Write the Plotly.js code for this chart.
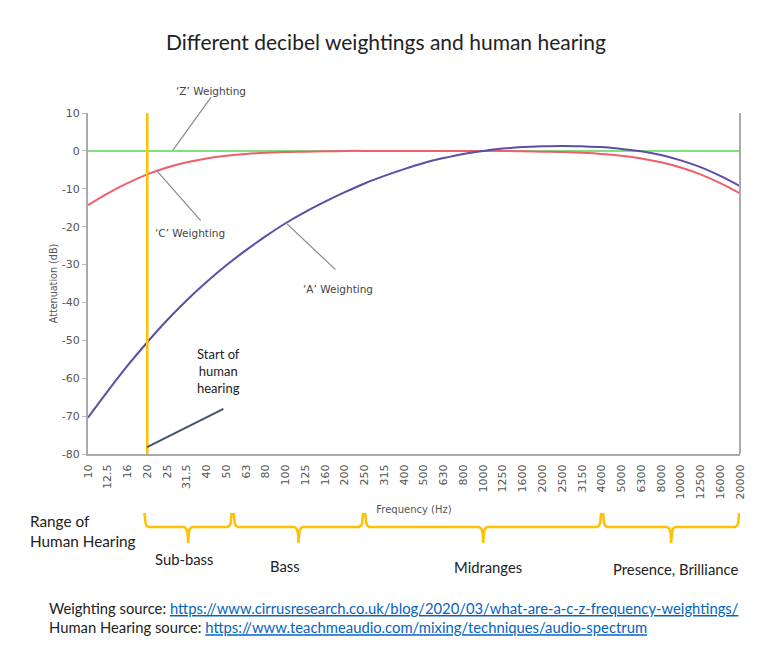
<!DOCTYPE html>
<html><head><meta charset="utf-8">
<script src="https://cdn.plot.ly/plotly-3.0.1.min.js"></script>
<style>html,body{margin:0;padding:0;background:#fff}#chart{width:768px;height:649px}</style>
</head><body><div id="chart"></div>
<script>
// ---- data ----
const freqLabels = ['10','12.5','16','20','25','31.5','40','50','63','80','100','125','160','200','250','315','400','500','630','800','1000','1250','1600','2000','2500','3150','4000','5000','6300','8000','10000','12500','16000','20000'];
const aWeighting = [-70.4,-63.4,-56.7,-50.5,-44.7,-39.4,-34.6,-30.2,-26.2,-22.5,-19.1,-16.1,-13.4,-10.9,-8.6,-6.6,-4.8,-3.2,-1.9,-0.8,0,0.6,1.0,1.2,1.3,1.2,1.0,0.5,-0.1,-1.1,-2.5,-4.3,-6.6,-9.3];
const cWeighting = [-14.3,-11.2,-8.5,-6.2,-4.4,-3.0,-2.0,-1.3,-0.8,-0.5,-0.3,-0.2,-0.1,0,0,0,0,0,0,0,0,0,-0.1,-0.2,-0.3,-0.5,-0.8,-1.3,-2.0,-3.0,-4.4,-6.2,-8.5,-11.2];
const zWeighting = [0,0,0,0,0,0,0,0,0,0,0,0,0,0,0,0,0,0,0,0,0,0,0,0,0,0,0,0,0,0,0,0,0,0];
const yTicks = [10,0,-10,-20,-30,-40,-50,-60,-70,-80];
const hearingStartHz = 20;
const bandNames = ['Sub-bass','Bass','Midranges','Presence, Brilliance'];
const bandLowHz = [20, 54, 250, 4000];
const bandHighHz = [54, 250, 4000, 20000];

// ---- helpers ----
const idx = freqLabels.map((_, i) => i);
const hzToIdx = f => 10 * Math.log10(f / 10);
const yRange = [-80, 10];
const k = 33 / 652; // index units per pixel
const GOLD = '#FFC000';

const bx = [], by = [];
bandLowHz.forEach((lo, i) => {
  const x0 = hzToIdx(lo) - (i === 0 ? 3 * k : -1 * k);
  const x1 = hzToIdx(bandHighHz[i]) - 1 * k;
  const xm = (x0 + x1) / 2;
  const pts = [
    [x0, -8], [x0 + 0.3 * k, -14], [x0 + 1 * k, -18], [x0 + 2 * k, -20.5], [x0 + 4 * k, -22],
    [xm - 4 * k, -22], [xm - 2 * k, -23.5], [xm - 1 * k, -26], [xm - 0.3 * k, -30], [xm, -38],
    [xm + 0.3 * k, -30], [xm + 1 * k, -26], [xm + 2 * k, -23.5], [xm + 4 * k, -22],
    [x1 - 4 * k, -22], [x1 - 2 * k, -20.5], [x1 - 1 * k, -18], [x1 - 0.3 * k, -14], [x1, -8]
  ];
  pts.forEach(p => { bx.push(p[0]); by.push(p[1]); });
  bx.push(null); by.push(null);
});

const hearIdx = freqLabels.indexOf(String(hearingStartHz));

const traces = [
  {x: idx, y: zWeighting, mode: 'lines', line: {color: '#7FE27F', width: 2}, name: 'Z'},
  {x: idx, y: cWeighting, mode: 'lines', line: {color: '#EE5F6C', width: 2, shape: 'spline', smoothing: 1}, name: 'C'},
  {x: idx, y: aWeighting, mode: 'lines', line: {color: '#5B4EA6', width: 2, shape: 'spline', smoothing: 1}, name: 'A'},
  {x: [hearIdx, hearIdx], y: yRange, mode: 'lines', line: {color: GOLD, width: 2.5}, name: 'hearing'},
  {x: bx, y: by, xaxis: 'x', yaxis: 'y2', mode: 'lines', line: {color: GOLD, width: 2.5}, connectgaps: false, name: 'bands'}
];

const calib = 'Lato, Open Sans, sans-serif';
const vera = 'DejaVu Sans, Verdana, sans-serif';
const small = {family: vera, size: 10.5, color: '#444'};

function pointer(hx, hy, tx, ty, color, w) {
  return {x: hx, y: hy, ax: tx, ay: ty, xref: 'x', yref: 'y', axref: 'x', ayref: 'y',
    text: '', showarrow: true, arrowhead: 0, arrowwidth: w, arrowcolor: color, standoff: 0, startstandoff: 0};
}

const annotations = [
  {x: 6.23, y: 1.063, xref: 'x', yref: 'paper', text: '‘Z’ Weighting', showarrow: false, font: small},
  {x: 5.16, y: -21.7, xref: 'x', yref: 'y', text: '‘C’ Weighting', showarrow: false, font: small},
  {x: 12.65, y: -36.4, xref: 'x', yref: 'y', text: '‘A’ Weighting', showarrow: false, font: small},
  pointer(4.30, 0.2, 6.28, 14.5, '#8a8a8a', 1.2),
  pointer(3.49, -5.3, 5.77, -18.8, '#8a8a8a', 1.2),
  pointer(10.02, -19.0, 12.60, -31.7, '#8a8a8a', 1.2),
  pointer(2.99, -78.2, 6.93, -67.9, '#44546A', 2),
  {x: 6.58, y: -58.1, xref: 'x', yref: 'y', text: 'Start of<br>human<br>hearing', showarrow: false,
    font: {family: calib, size: 13, color: '#222'}, align: 'center'},
  {x: -0.0920, y: 0.1218, xref: 'paper', yref: 'paper', xanchor: 'left', yanchor: 'middle', align: 'left',
    text: 'Range of<br>Human Hearing', showarrow: false, font: {family: calib, size: 15.3, color: '#222'}},
  {x: -0.0629, y: -0.0163, xref: 'paper', yref: 'paper', xanchor: 'left', yanchor: 'top', align: 'left', showarrow: false,
    font: {family: calib, size: 14.8, color: '#222'},
    text: 'Weighting source: <span style="color:#0563C1"><u>https://www.cirrusresearch.co.uk/blog/2020/03/what-are-a-c-z-frequency-weightings/</u></span><br>' +
          'Human Hearing source: <span style="color:#0563C1"><u>https://www.teachmeaudio.com/mixing/techniques/audio-spectrum</u></span>'}
];
const labelShift = [-6, -13, 5, 4];
const labelY = [-54, -61, -62, -64];
bandNames.forEach((n, i) => {
  const x0 = hzToIdx(bandLowHz[i]), x1 = hzToIdx(bandHighHz[i]);
  annotations.push({x: (x0 + x1) / 2, y: labelY[i], xref: 'x', yref: 'y2', xshift: labelShift[i],
    text: n, showarrow: false, font: {family: calib, size: 14.8, color: '#222'}});
});

const layout = {
  width: 768, height: 649,
  margin: {l: 88, r: 28, t: 113, b: 60},
  paper_bgcolor: '#fff', plot_bgcolor: '#fff',
  showlegend: false,
  title: {text: 'Different decibel weightings and human hearing', x: 0.5026, xref: 'container', y: 0.935, yref: 'container',
    xanchor: 'center', yanchor: 'middle', font: {family: calib, size: 21, color: '#222'}},
  xaxis: {range: [0, 33], tickvals: idx, ticktext: freqLabels, tickangle: -90, ticks: '', showgrid: false, zeroline: false,
    showline: true, linecolor: '#aaaaaa', linewidth: 2, anchor: 'y', ticklabelstandoff: 4,
    tickfont: {family: vera, size: 11, color: '#555'},
    title: {text: 'Frequency (Hz)', standoff: 8, font: {family: vera, size: 10, color: '#555'}}},
  yaxis: {domain: [0.28361, 1], range: yRange, tickvals: yTicks, ticktext: yTicks.map(String), ticks: 'outside', ticklen: 4, tickcolor: '#bbb',
    showgrid: false, zeroline: false, showline: true, linecolor: '#aaaaaa', linewidth: 2,
    tickfont: {family: vera, size: 11, color: '#555'},
    title: {text: 'Attenuation (dB)', standoff: 2, font: {family: vera, size: 9.6, color: '#555'}}},
  yaxis2: {domain: [0, 0.1765], range: [-84, 0], visible: false, anchor: 'x', fixedrange: true},
  shapes: [
    {type: 'line', xref: 'paper', yref: 'paper', x0: 1, x1: 1, y0: 0.28361, y1: 1, line: {color: '#aaaaaa', width: 2}}
  ],
  annotations: annotations
};

Plotly.newPlot('chart', traces, layout, {staticPlot: true});
</script>
</body></html>
